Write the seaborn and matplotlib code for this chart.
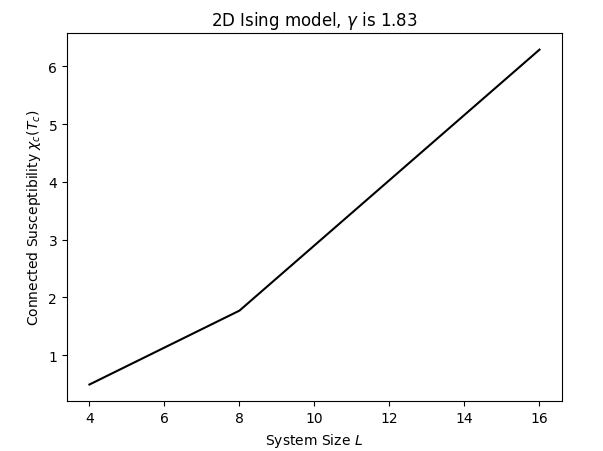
import matplotlib
matplotlib.use("Agg")
import matplotlib.pyplot as plt
import seaborn as sns
import pandas as pd

sizes = [4, 8, 16]
chi = [0.49, 1.77, 6.29]

df = pd.DataFrame({"L": sizes, "chi": chi})
fig, ax = plt.subplots(figsize=(6.03, 4.52), dpi=100)
fig.subplots_adjust(left=0.111, right=0.932, top=0.925, bottom=0.11)
sns.lineplot(data=df, x="L", y="chi", color="black", ax=ax)
ax.set_xlabel("System Size $L$")
ax.set_ylabel(r"Connected Susceptibility $\chi_c(T_c)$")
ax.set_title(r"2D Ising model, $\gamma$ is 1.83")
fig.savefig("out.png", dpi=100)
